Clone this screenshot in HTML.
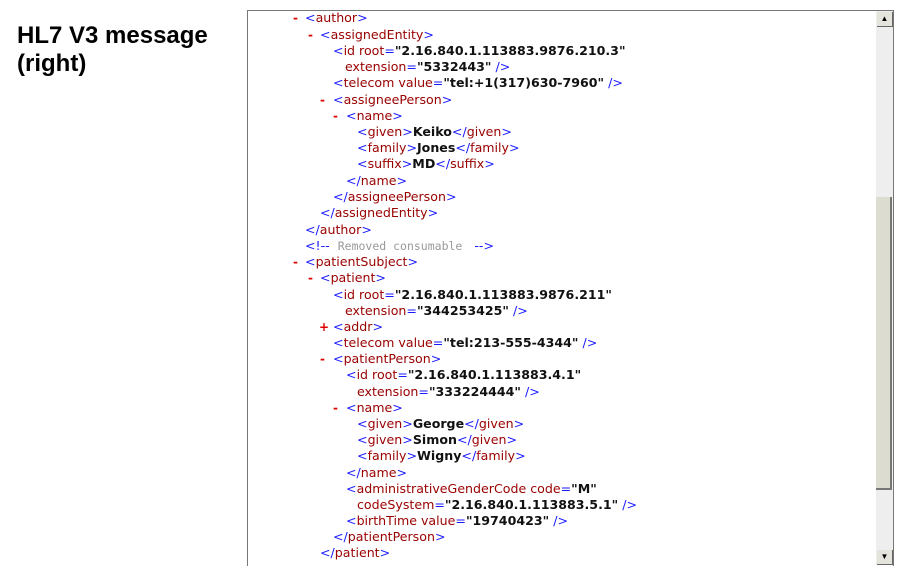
<!DOCTYPE html>
<html><head><meta charset="utf-8"><style>
body{margin:0;width:900px;height:573px;background:#fff;position:relative;overflow:hidden;font-family:"Liberation Sans",sans-serif}
.t{position:absolute;left:17px;top:22px;font-weight:bold;font-size:24px;line-height:28px;color:#000}
.box{position:absolute;left:247px;top:10px;width:645px;height:555px;border:1px solid #777;border-bottom:none;background:#fff}
.sb{position:absolute;left:876px;top:11px;width:17px;height:554px;background:#eeeeee}
.thumb{position:absolute;left:876px;top:197px;width:16px;height:293px;background:#dcdcd0;border-right:2px solid #777;border-bottom:2px solid #777;box-sizing:border-box}
.btn{position:absolute;left:877px;width:15px;height:14px;background:#e4e4dc;border-right:1px solid #666;border-bottom:1px solid #666;font-size:8px;text-align:center;line-height:14px;color:#000}
.l{position:absolute;font-family:"DejaVu Sans",sans-serif;font-size:12.6px;white-space:pre;line-height:14px;color:#990000}
.b{color:#1a1aff}.k{color:#111;font-weight:bold}.g{color:#999;font-family:"DejaVu Sans Mono",monospace;font-size:11.5px}
.m{position:absolute;font-family:"DejaVu Sans",sans-serif;font-size:12px;color:#e00000;font-weight:bold;line-height:14px}
</style></head><body>
<div class="t">HL7 V3 message<br>(right)</div>
<div class="box"></div>
<div class="sb"></div><div class="thumb"></div>
<div class="btn" style="top:12px">▲</div><div class="btn" style="top:550px">▼</div>

<div class="m" style="left:293px;top:11px">-</div><div class="l" style="left:305px;top:11px"><span class="b">&lt;</span>author<span class="b">&gt;</span></div>
<div class="m" style="left:308px;top:28px">-</div><div class="l" style="left:320px;top:28px"><span class="b">&lt;</span>assignedEntity<span class="b">&gt;</span></div>
<div class="l" style="left:333px;top:44px"><span class="b">&lt;</span>id root<span class="b">=</span><span class="k">"2.16.840.1.113883.9876.210.3"</span></div>
<div class="l" style="left:345px;top:60px">extension<span class="b">=</span><span class="k">"5332443"</span> <span class="b">/&gt;</span></div>
<div class="l" style="left:333px;top:76px"><span class="b">&lt;</span>telecom value<span class="b">=</span><span class="k">"tel:+1(317)630-7960"</span> <span class="b">/&gt;</span></div>
<div class="m" style="left:320px;top:93px">-</div><div class="l" style="left:333px;top:93px"><span class="b">&lt;</span>assigneePerson<span class="b">&gt;</span></div>
<div class="m" style="left:333px;top:109px">-</div><div class="l" style="left:346px;top:109px"><span class="b">&lt;</span>name<span class="b">&gt;</span></div>
<div class="l" style="left:357px;top:125px"><span class="b">&lt;</span>given<span class="b">&gt;</span><span class="k">Keiko</span><span class="b">&lt;/</span>given<span class="b">&gt;</span></div>
<div class="l" style="left:357px;top:141px"><span class="b">&lt;</span>family<span class="b">&gt;</span><span class="k">Jones</span><span class="b">&lt;/</span>family<span class="b">&gt;</span></div>
<div class="l" style="left:357px;top:157px"><span class="b">&lt;</span>suffix<span class="b">&gt;</span><span class="k">MD</span><span class="b">&lt;/</span>suffix<span class="b">&gt;</span></div>
<div class="l" style="left:346px;top:174px"><span class="b">&lt;/</span>name<span class="b">&gt;</span></div>
<div class="l" style="left:333px;top:190px"><span class="b">&lt;/</span>assigneePerson<span class="b">&gt;</span></div>
<div class="l" style="left:320px;top:206px"><span class="b">&lt;/</span>assignedEntity<span class="b">&gt;</span></div>
<div class="l" style="left:305px;top:223px"><span class="b">&lt;/</span>author<span class="b">&gt;</span></div>
<div class="l" style="left:305px;top:239px"><span class="b">&lt;!--</span>  <span class="g">Removed consumable</span>   <span class="b">--&gt;</span></div>
<div class="m" style="left:293px;top:255px">-</div><div class="l" style="left:305px;top:255px"><span class="b">&lt;</span>patientSubject<span class="b">&gt;</span></div>
<div class="m" style="left:308px;top:271px">-</div><div class="l" style="left:320px;top:271px"><span class="b">&lt;</span>patient<span class="b">&gt;</span></div>
<div class="l" style="left:333px;top:288px"><span class="b">&lt;</span>id root<span class="b">=</span><span class="k">"2.16.840.1.113883.9876.211"</span></div>
<div class="l" style="left:345px;top:304px">extension<span class="b">=</span><span class="k">"344253425"</span> <span class="b">/&gt;</span></div>
<div class="m" style="left:319px;top:320px">+</div><div class="l" style="left:333px;top:320px"><span class="b">&lt;</span>addr<span class="b">&gt;</span></div>
<div class="l" style="left:333px;top:336px"><span class="b">&lt;</span>telecom value<span class="b">=</span><span class="k">"tel:213-555-4344"</span> <span class="b">/&gt;</span></div>
<div class="m" style="left:320px;top:352px">-</div><div class="l" style="left:333px;top:352px"><span class="b">&lt;</span>patientPerson<span class="b">&gt;</span></div>
<div class="l" style="left:346px;top:368px"><span class="b">&lt;</span>id root<span class="b">=</span><span class="k">"2.16.840.1.113883.4.1"</span></div>
<div class="l" style="left:357px;top:385px">extension<span class="b">=</span><span class="k">"333224444"</span> <span class="b">/&gt;</span></div>
<div class="m" style="left:333px;top:401px">-</div><div class="l" style="left:346px;top:401px"><span class="b">&lt;</span>name<span class="b">&gt;</span></div>
<div class="l" style="left:357px;top:417px"><span class="b">&lt;</span>given<span class="b">&gt;</span><span class="k">George</span><span class="b">&lt;/</span>given<span class="b">&gt;</span></div>
<div class="l" style="left:357px;top:433px"><span class="b">&lt;</span>given<span class="b">&gt;</span><span class="k">Simon</span><span class="b">&lt;/</span>given<span class="b">&gt;</span></div>
<div class="l" style="left:357px;top:449px"><span class="b">&lt;</span>family<span class="b">&gt;</span><span class="k">Wigny</span><span class="b">&lt;/</span>family<span class="b">&gt;</span></div>
<div class="l" style="left:346px;top:466px"><span class="b">&lt;/</span>name<span class="b">&gt;</span></div>
<div class="l" style="left:346px;top:482px"><span class="b">&lt;</span>administrativeGenderCode code<span class="b">=</span><span class="k">"M"</span></div>
<div class="l" style="left:357px;top:498px">codeSystem<span class="b">=</span><span class="k">"2.16.840.1.113883.5.1"</span> <span class="b">/&gt;</span></div>
<div class="l" style="left:346px;top:514px"><span class="b">&lt;</span>birthTime value<span class="b">=</span><span class="k">"19740423"</span> <span class="b">/&gt;</span></div>
<div class="l" style="left:333px;top:530px"><span class="b">&lt;/</span>patientPerson<span class="b">&gt;</span></div>
<div class="l" style="left:320px;top:546px"><span class="b">&lt;/</span>patient<span class="b">&gt;</span></div>
</body></html>
